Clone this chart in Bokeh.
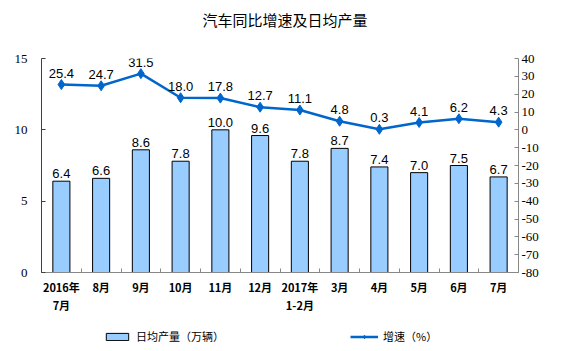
from bokeh.plotting import figure
from bokeh.layouts import column
from bokeh.models import (Range1d, LinearAxis, FixedTicker, Legend, LegendItem,
                          ColumnDataSource, Label, LabelSet)
from bokeh.core.properties import value
from bokeh.embed import file_html
from bokeh.resources import INLINE

title_text = "汽车同比增速及日均产量"
categories = ["2016年\n7月", "8月", "9月", "10月", "11月", "12月", "2017年\n1-2月",
              "3月", "4月", "5月", "6月", "7月"]
output = [6.4, 6.6, 8.6, 7.8, 10.0, 9.6, 7.8, 8.7, 7.4, 7.0, 7.5, 6.7]
growth = [25.4, 24.7, 31.5, 18.0, 17.8, 12.7, 11.1, 4.8, 0.3, 4.1, 6.2, 4.3]
left_ticks = [0, 5, 10, 15]
right_ticks = list(range(-80, 41, 10))
legend_labels = ["日均产量（万辆）", "增速（%）"]

BAR_FILL = "#99CCFF"
LINE_COL = "#0066CC"
W = 564

n = len(categories)
xs = [i + 0.5 for i in range(n)]
src = ColumnDataSource(dict(
    x=xs, out=output, gr=growth,
    out_lbl=[f"{v:.1f}" for v in output],
    gr_lbl=[f"{v:.1f}" for v in growth],
))

# ---- title strip
tt = figure(width=W, height=36, output_backend="svg", toolbar_location=None,
            x_range=Range1d(0, 1), y_range=Range1d(0, 1), min_border=0,
            outline_line_color=None, background_fill_color="white",
            border_fill_color="white")
tt.axis.visible = False
tt.grid.visible = False
tt.add_layout(Label(x=0.5, y=0.47, x_offset=5, text=title_text,
                    text_align="center", text_baseline="middle",
                    text_font="Noto Sans CJK SC", text_font_size="15px",
                    text_color="#000000"))

# ---- main chart
p = figure(width=W, height=285, output_backend="svg", toolbar_location=None,
           x_range=Range1d(0, n), y_range=Range1d(0, 15),
           min_border_left=41, min_border_right=46, min_border_top=22,
           min_border_bottom=49, background_fill_color="white",
           border_fill_color="white", outline_line_color=None)
p.xgrid.visible = False
p.ygrid.visible = False
p.extra_y_ranges = {"r": Range1d(-80, 40)}

ya = p.yaxis[0]
ya.ticker = FixedTicker(ticks=left_ticks)
ya.major_tick_in = 4
ya.major_tick_out = 0
ya.minor_tick_line_color = None
ya.axis_line_color = "#404040"
ya.major_tick_line_color = "#404040"
ya.major_label_standoff = 14
ya.major_label_text_font = "Liberation Serif"
ya.major_label_text_font_size = "13px"
ya.major_label_text_color = "#000000"

ra = LinearAxis(y_range_name="r", ticker=FixedTicker(ticks=right_ticks))
ra.major_label_overrides = {t: str(t) for t in right_ticks}
ra.major_tick_in = 4
ra.major_tick_out = 0
ra.minor_tick_line_color = None
ra.axis_line_color = "#888888"
ra.major_tick_line_color = "#888888"
ra.major_label_standoff = 3
ra.major_label_text_font = "Liberation Serif"
ra.major_label_text_font_size = "13px"
ra.major_label_text_color = "#000000"
p.add_layout(ra, "right")

xa = p.xaxis[0]
xa.ticker = FixedTicker(ticks=xs, minor_ticks=list(range(n + 1)))
xa.major_label_overrides = {x: c for x, c in zip(xs, categories)}
xa.major_tick_in = 0
xa.major_tick_out = 0
xa.minor_tick_in = 4
xa.minor_tick_out = 0
xa.minor_tick_line_color = "#888888"
xa.axis_line_color = "#888888"
xa.major_label_standoff = 6
xa.major_label_text_font = "Noto Sans CJK SC"
xa.major_label_text_font_size = "11px"
xa.major_label_text_font_style = "bold"
xa.major_label_text_color = "#000000"
xa.major_label_text_line_height = 1.15

p.vbar(x="x", top="out", width=0.43, bottom=0, source=src,
       fill_color=BAR_FILL, line_color="#000000", line_width=1)
p.line(x="x", y="gr", source=src, y_range_name="r",
       line_color=LINE_COL, line_width=2.5)
p.scatter(x="x", y="gr", source=src, y_range_name="r", marker="diamond",
          size=10, fill_color=LINE_COL, line_color=LINE_COL)

p.add_layout(LabelSet(x="x", y="out", text="out_lbl", source=src, y_offset=3,
                      text_align="center", text_baseline="bottom",
                      text_font=value("Liberation Sans"),
                      text_font_size=value("13px"),
                      text_color="#000000"))
p.add_layout(LabelSet(x="x", y="gr", text="gr_lbl", source=src, y_range_name="r",
                      y_offset=7, text_align="center", text_baseline="bottom",
                      text_font=value("Liberation Sans"),
                      text_font_size=value("13px"),
                      text_color="#000000"))

# ---- legend strip (legend renderers carry no visible data)
lg = figure(width=W, height=30, output_backend="svg", toolbar_location=None,
            x_range=Range1d(0, 1), y_range=Range1d(0, 1),
            min_border=0, outline_line_color=None,
            background_fill_color="white", border_fill_color="white")
lg.axis.visible = False
lg.grid.visible = False
nan = float("nan")
dummy = ColumnDataSource(dict(x=[nan], y=[nan]))
r_bar = lg.vbar(x="x", top="y", width=0.1, source=dummy,
                fill_color=BAR_FILL, line_color="#000000", line_width=1)
r_ln = lg.line(x="x", y="y", source=dummy, line_color=LINE_COL, line_width=2.5)
r_mk = lg.scatter(x="x", y="y", source=dummy, marker="diamond", size=9,
                  fill_color=LINE_COL, line_color=LINE_COL)
legend = Legend(items=[LegendItem(label=legend_labels[0], renderers=[r_bar]),
                       LegendItem(label=legend_labels[1], renderers=[r_ln, r_mk])],
                orientation="horizontal", location=(62, 7), spacing=126,
                glyph_width=28, glyph_height=9, label_standoff=5,
                padding=2, margin=0,
                label_text_font="Noto Sans CJK SC", label_text_font_size="11px",
                label_text_color="#000000", border_line_color=None,
                background_fill_alpha=0)
lg.add_layout(legend, "center")

open("out.html", "w").write(file_html(column(tt, p, lg, spacing=0), INLINE))
